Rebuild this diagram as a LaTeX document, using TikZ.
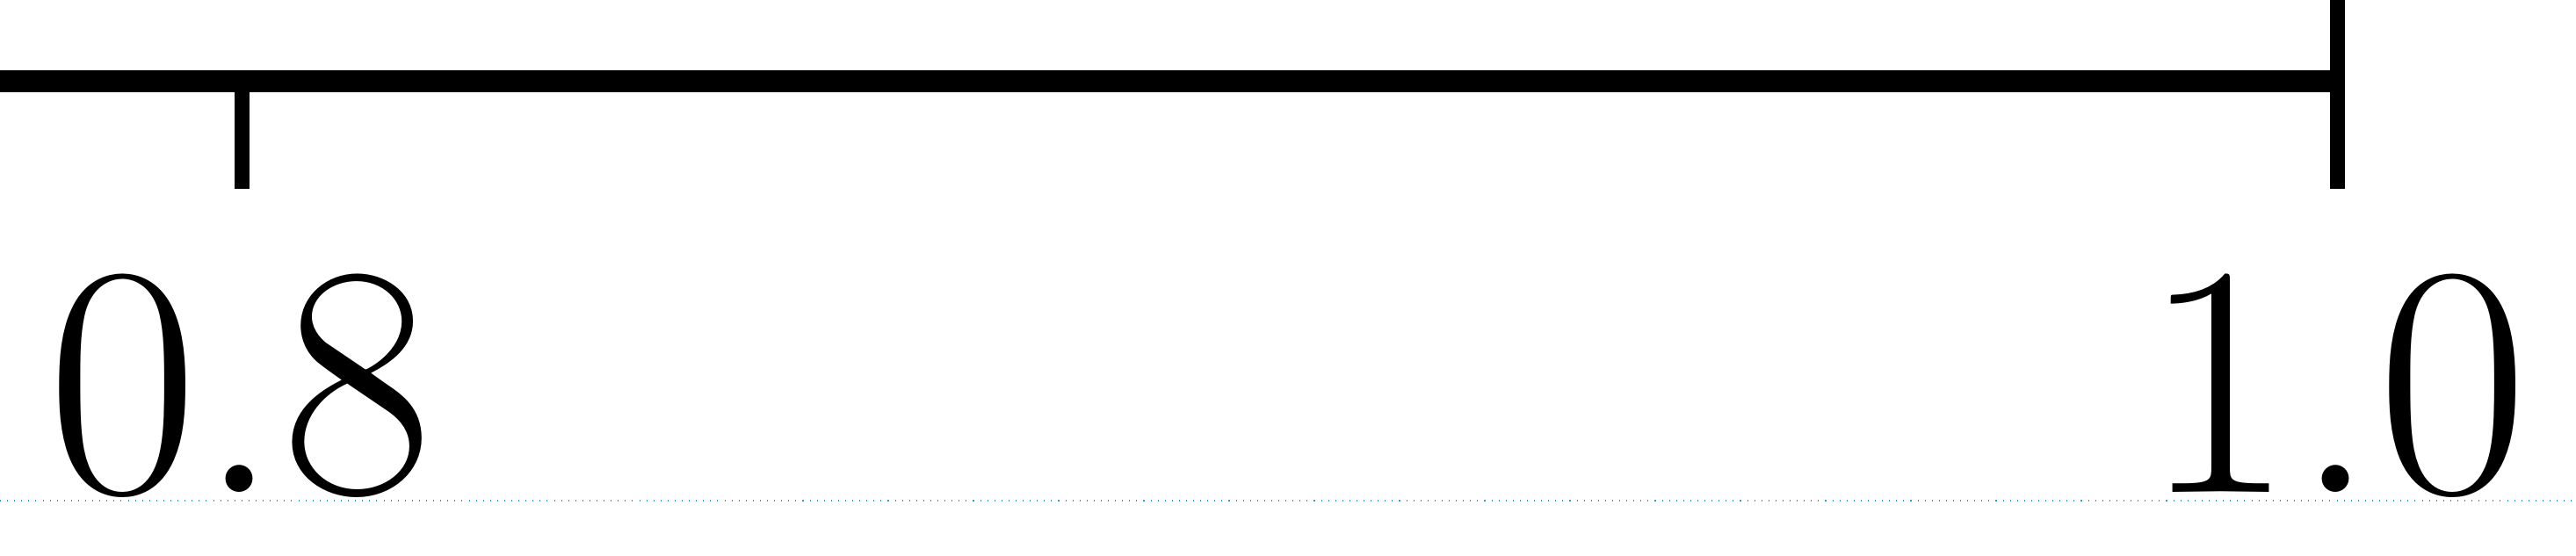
\documentclass[tikz,border=0pt]{standalone}
\tikzset{axisline/.style={line width=0.25cm},tickline/.style={line width=0.17cm},lbl/.style={anchor=base,inner sep=0,font=\fontsize{107}{110}\selectfont}}
\begin{document}
\begin{tikzpicture}
\useasboundingbox (0,0) rectangle (29.32,6.33);
\coordinate (a0) at (0,5.40);
\coordinate (a1) at (26.60,5.40);
\coordinate (t1) at (2.75,5.40);
\coordinate (t1b) at (2.75,4.18);
\coordinate (t2) at (26.60,6.40);
\coordinate (t2b) at (26.60,4.18);
\draw[axisline] (a0) -- ([xshift=0.08cm]a1);
\draw[tickline] (t1) -- (t1b);
\draw[tickline] (t2) -- (t2b);
\node[lbl] (l1) at (2.73,0.72) {0.8};
\node[lbl] (l2) at (26.58,0.72) {1.0};
\coordinate (d0) at (0,0.63);
\coordinate (d1) at (29.32,0.63);
\draw[cyan!70!teal,line width=0.3pt,dotted] (d0) -- (d1);
\end{tikzpicture}
\end{document}
